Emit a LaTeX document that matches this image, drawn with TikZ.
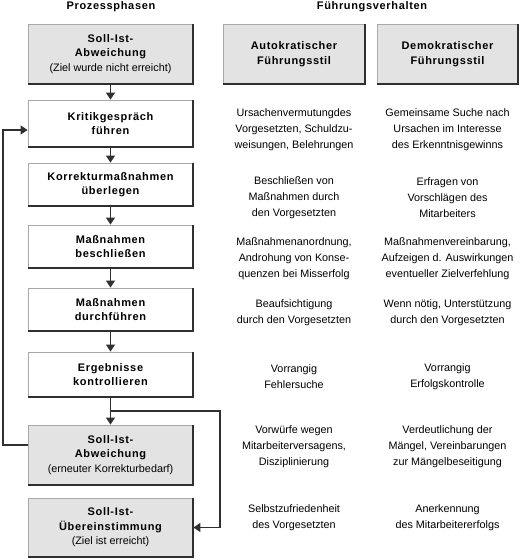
\documentclass[tikz,border=0pt]{standalone}
\usepackage{fontspec}
\setmainfont{Liberation Sans}
\newfontfamily\spacedsans[LetterSpace=6]{Liberation Sans}
\usetikzlibrary{arrows.meta}
\definecolor{boxgray}{HTML}{E3E3E3}
\definecolor{edgelight}{HTML}{A8A8A8}
\definecolor{edgedark}{HTML}{303030}
\newcommand{\hbfont}{\spacedsans\bfseries\fontsize{11}{14.5}\selectfont}
\newcommand{\ntfont}{\normalfont\fontsize{10.8}{16}\selectfont}
\newcommand{\smfont}{\normalfont\fontsize{10.8}{14.5}\selectfont}
\begin{document}
\begin{tikzpicture}[x=1pt,y=-1pt,
  phase/.style={rectangle, draw=edgelight, line width=0.8pt, fill=white,
    minimum width=165pt, inner sep=0pt, align=center, font=\hbfont},
  grayphase/.style={phase, fill=boxgray},
  stylebox/.style={grayphase, minimum width=142pt, minimum height=60pt},
  note/.style={align=center, font=\ntfont, inner sep=0pt},
  head/.style={font=\hbfont, inner sep=0pt},
  conn/.style={line width=1.3pt, draw=edgedark},
  arr/.style={conn, -{Triangle[width=9pt,length=7pt]}},
  shadowline/.style={draw=edgedark, line width=2pt}]
\useasboundingbox (0,0) rectangle (520,559);

% headers
\node[head] (h1) at (111,7) {Prozessphasen};
\node[head] (h2) at (372,7) {Führungsverhalten};

% process phases
\node[grayphase, minimum height=60pt] (b1) at (110.5,54)
  {Soll-Ist-\\Abweichung\\{\smfont(Ziel wurde nicht erreicht)}};
\node[phase, minimum height=47pt] (b2) at (110.5,123.5) {Kritikgespräch\\führen};
\node[phase, minimum height=43pt] (b3) at (110.5,184.5) {Korrekturmaßnahmen\\überlegen};
\node[phase, minimum height=43pt] (b4) at (110.5,246.5) {Maßnahmen\\beschließen};
\node[phase, minimum height=43pt] (b5) at (110.5,309.5) {Maßnahmen\\durchführen};
\node[phase, minimum height=45pt] (b6) at (110.5,374.5) {Ergebnisse\\kontrollieren};
\node[grayphase, minimum height=60pt] (b7) at (110.5,455)
  {Soll-Ist-\\Abweichung\\{\smfont(erneuter Korrekturbedarf)}};
\node[grayphase, minimum height=59pt] (b8) at (110.5,527.5)
  {Soll-Ist-\\Übereinstimmung\\{\smfont(Ziel ist erreicht)}};

% style headers
\node[stylebox] (a) at (294,54) {Autokratischer\\Führungsstil};
\node[stylebox, minimum width=141pt] (d) at (447.5,54) {Demokratischer\\Führungsstil};

% shadows (dark right and bottom edges)
\foreach \n in {b1,b2,b3,b4,b5,b6,b7,b8,a,d}
  \draw[shadowline] (\n.north east) -- (\n.south east) -- (\n.south west);

% descriptions
\node[note] (a2) at (294,130) {Ursachenvermutungdes\\Vorgesetzten, Schuldzu-\\weisungen, Belehrungen};
\node[note] (d2) at (447.5,130) {Gemeinsame Suche nach\\Ursachen im Interesse\\des Erkenntnisgewinns};
\node[note] (a3) at (294,198) {Beschließen von\\Maßnahmen durch\\den Vorgesetzten};
\node[note] (d3) at (447.5,198) {Erfragen von\\Vorschlägen des\\Mitarbeiters};
\node[note] (a4) at (294,259) {Maßnahmenanordnung,\\Androhung von Konse-\\quenzen bei Misserfolg};
\node[note] (d4) at (447.5,259) {Maßnahmenvereinbarung,\\Aufzeigen d. Auswirkungen\\eventueller Zielverfehlung};
\node[note] (a5) at (294,313) {Beaufsichtigung\\durch den Vorgesetzten};
\node[note] (d5) at (447.5,313) {Wenn nötig, Unterstützung\\durch den Vorgesetzten};
\node[note] (a6) at (294,377) {Vorrangig\\Fehlersuche};
\node[note] (d6) at (447.5,377) {Vorrangig\\Erfolgskontrolle};
\node[note] (a7) at (294,447) {Vorwürfe wegen\\Mitarbeiterversagens,\\Disziplinierung};
\node[note] (d7) at (447.5,447) {Verdeutlichung der\\Mängel, Vereinbarungen\\zur Mängelbeseitigung};
\node[note] (a8) at (294,518) {Selbstzufriedenheit\\des Vorgesetzten};
\node[note] (d8) at (447.5,518) {Anerkennung\\des Mitarbeitererfolgs};

% connectors
\draw[arr] (b1) -- (b2);
\draw[arr] (b2) -- (b3);
\draw[arr] (b3) -- (b4);
\draw[arr] (b4) -- (b5);
\draw[arr] (b5) -- (b6);
\draw[arr] (b6) -- (b7);
\coordinate (j) at (110.5,411);
\coordinate (r1) at (220,411);
\draw[arr] (j) -- (r1) |- (b8.east);
\coordinate (l1) at (3,445);
\coordinate (l2) at (3,130);
\draw[arr] ([yshift=10pt]b7.west) -- (l1) -- (l2) -- ([yshift=-6.5pt]b2.west);
\end{tikzpicture}
\end{document}
